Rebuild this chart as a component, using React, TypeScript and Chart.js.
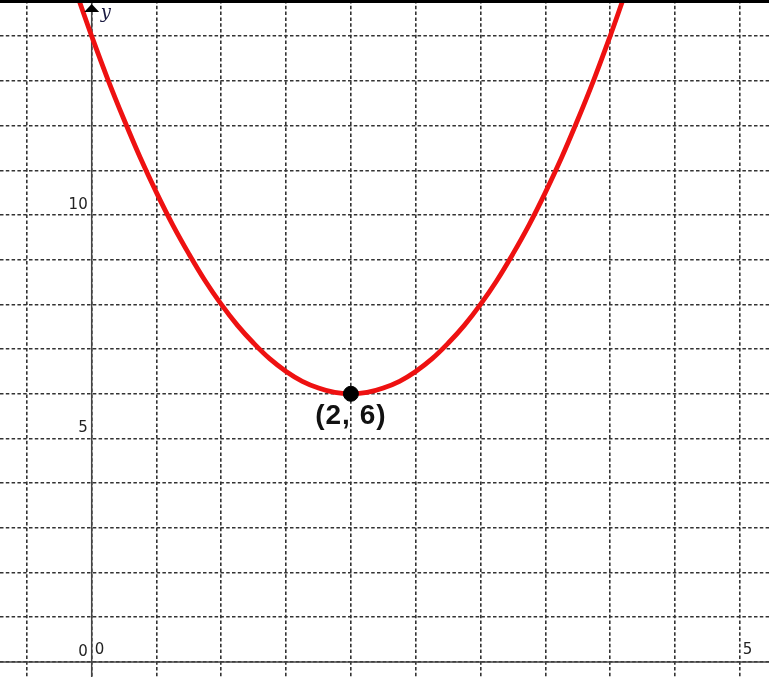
import { useEffect, useRef } from 'react';
import { Chart, registerables } from 'chart.js';

Chart.register(...registerables);

// points
const curveX = [
  -0.1, 0, 0.125, 0.25, 0.375, 0.5, 0.625, 0.75, 0.875, 1, 1.125, 1.25, 1.375, 1.5, 1.625, 1.75, 1.875, 2,
  2.125, 2.25, 2.375, 2.5, 2.625, 2.75, 2.875, 3, 3.125, 3.25, 3.375, 3.5, 3.625, 3.75, 3.875, 4, 4.1,
];
const curveY = [
  14.82, 14, 13.03, 12.13, 11.28, 10.5, 9.78, 9.13, 8.53, 8, 7.53, 7.13, 6.78, 6.5, 6.28, 6.13, 6.03, 6,
  6.03, 6.13, 6.28, 6.5, 6.78, 7.13, 7.53, 8, 8.53, 9.13, 9.78, 10.5, 11.28, 12.13, 13.03, 14, 14.82,
];

// marked vertex
const vertexX = [2];
const vertexY = [6];
const vertexLabel = '(2, 6)';

// tick labels shown on the axes
const xTickLabels = [0, 5];
const yTickLabels = [0, 5, 10];
const yAxisTitle = 'y';

const overlayPlugin = {
  id: 'axesOverlay',
  beforeDatasetsDraw(chart: any) {
    const { ctx, width, height } = chart;
    const xs = chart.scales.x;
    const ys = chart.scales.y;
    const x0 = xs.getPixelForValue(0);
    const y0 = ys.getPixelForValue(0);
    ctx.save();
    ctx.strokeStyle = '#444';
    ctx.lineWidth = 1.5;
    ctx.beginPath();
    ctx.moveTo(x0, 0);
    ctx.lineTo(x0, height);
    ctx.moveTo(0, y0);
    ctx.lineTo(width, y0);
    ctx.stroke();
    ctx.restore();
  },
  afterDatasetsDraw(chart: any) {
    const { ctx, width } = chart;
    const xs = chart.scales.x;
    const ys = chart.scales.y;
    const x0 = xs.getPixelForValue(0);
    const y0 = ys.getPixelForValue(0);
    ctx.save();

    // tick labels
    ctx.fillStyle = '#222';
    ctx.font = '15px "DejaVu Sans"';
    ctx.textBaseline = 'alphabetic';
    ctx.textAlign = 'right';
    yTickLabels.forEach((v) => {
      ctx.fillText(String(v), x0 - 4, ys.getPixelForValue(v) - 6);
    });
    ctx.textAlign = 'left';
    xTickLabels.forEach((v) => {
      ctx.fillText(String(v), xs.getPixelForValue(v) + 3, y0 - 8);
    });

    // arrow on y axis
    ctx.fillStyle = '#000';
    ctx.beginPath();
    ctx.moveTo(x0, 4);
    ctx.lineTo(x0 - 7.5, 12);
    ctx.lineTo(x0 + 7.5, 12);
    ctx.closePath();
    ctx.fill();

    ctx.fillStyle = '#1a1a40';
    ctx.font = 'italic 18px "DejaVu Serif"';
    ctx.textAlign = 'left';
    ctx.fillText(yAxisTitle, x0 + 9, 18);

    // vertex label
    ctx.fillStyle = '#111';
    ctx.font = 'bold 28px "Liberation Sans"';
    ctx.letterSpacing = '1px';
    ctx.textAlign = 'center';
    ctx.fillText(vertexLabel, xs.getPixelForValue(vertexX[0]), ys.getPixelForValue(vertexY[0]) + 30);
    ctx.letterSpacing = '0px';

    // top frame line
    ctx.fillStyle = '#000';
    ctx.fillRect(0, 0, width, 3);
    ctx.restore();
  },
};

export default function App() {
  const chartRef = useRef<HTMLCanvasElement>(null);
  const chartInstance = useRef<Chart | null>(null);

  useEffect(() => {
    document.body.style.margin = '0';
    if (!chartRef.current) return;
    const ctx = chartRef.current.getContext('2d');
    if (!ctx) return;

    if (chartInstance.current) {
      chartInstance.current.destroy();
    }

    const gridOpts = {
      color: '#333',
      lineWidth: 1.6,
      drawTicks: false,
    };

    chartInstance.current = new Chart(ctx, {
      type: 'scatter',
      data: {
        datasets: [
          {
            data: vertexX.map((v, i) => ({ x: v, y: vertexY[i] })),
            backgroundColor: '#000',
            borderColor: '#000',
            pointRadius: 7.5,
            showLine: false,
            order: 0,
          },
          {
            data: curveX.map((v, i) => ({ x: v, y: curveY[i] })),
            showLine: true,
            borderColor: '#ee1111',
            borderWidth: 4.8,
            pointRadius: 0,
            tension: 0.4,
            order: 1,
          },
        ],
      },
      options: {
        responsive: false,
        animation: false,
        layout: { padding: 0, autoPadding: false },
        plugins: {
          legend: { display: false },
          tooltip: { enabled: false },
        },
        scales: {
          x: {
            type: 'linear',
            min: -0.7075,
            max: 5.226,
            ticks: { display: false, stepSize: 0.5, includeBounds: false },
            grid: gridOpts,
            border: { display: false, dash: [3.5, 2.3] },
          },
          y: {
            type: 'linear',
            min: -0.336,
            max: 14.81,
            ticks: { display: false, stepSize: 1, includeBounds: false },
            grid: gridOpts,
            border: { display: false, dash: [3.5, 2.3] },
          },
        },
      },
      plugins: [overlayPlugin],
    });

    return () => {
      if (chartInstance.current) {
        chartInstance.current.destroy();
        chartInstance.current = null;
      }
    };
  }, []);

  return (
    <div style={{ width: 769, height: 677 }}>
      <canvas ref={chartRef} width={769} height={677} style={{ display: 'block' }}></canvas>
    </div>
  );
}
